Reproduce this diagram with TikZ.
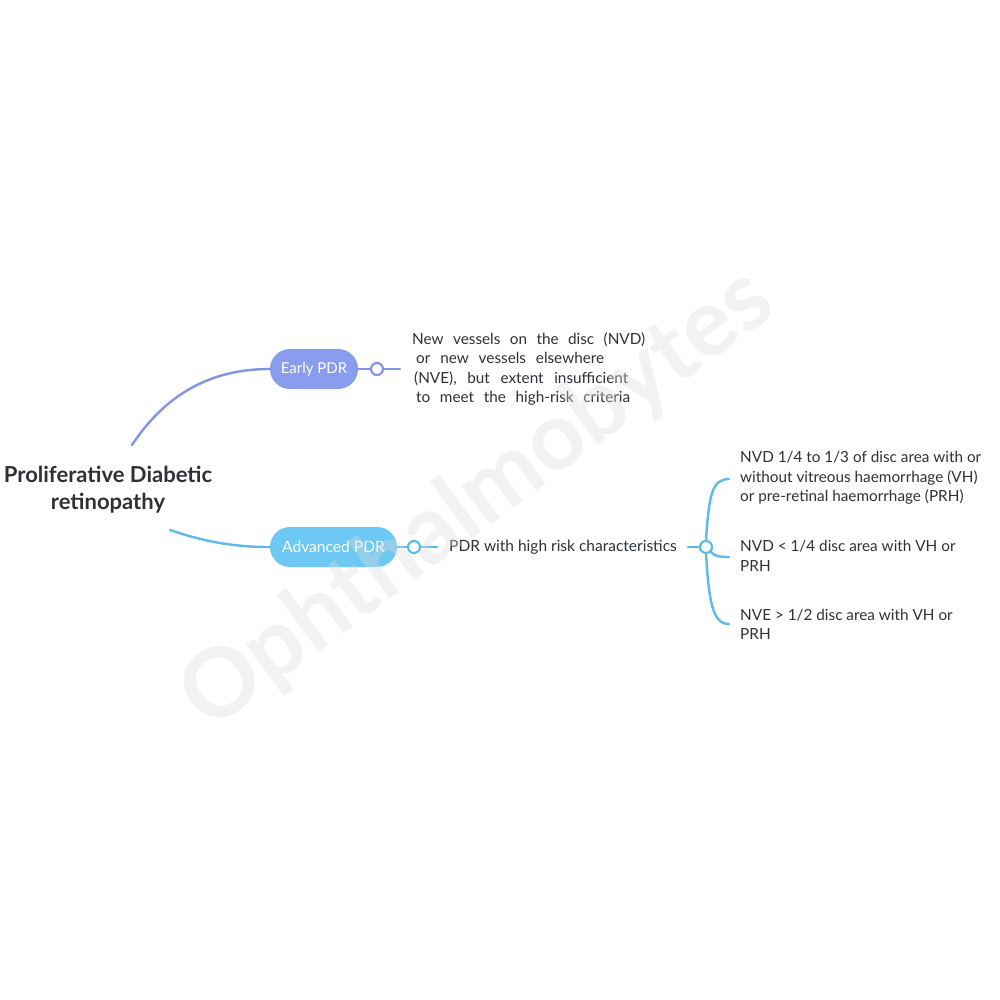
\documentclass[tikz,border=0pt]{standalone}
\usepackage{fontspec}
\setmainfont{Lato}
\definecolor{early}{HTML}{8A9CEE}
\definecolor{earlyline}{HTML}{8393E6}
\definecolor{adv}{HTML}{6EC8F4}
\definecolor{advline}{HTML}{5DBAE9}
\definecolor{txt}{HTML}{2E3236}
\definecolor{wm}{HTML}{DCDCDC}
\tikzset{
  pill/.style={rounded corners=20pt, minimum height=40pt, inner sep=0pt, text=white},
  circ/.style={circle, minimum size=12pt, inner sep=0pt, fill=white, line width=2.2pt},
  conn/.style={line width=2.4pt, line cap=round},
  body/.style={text=txt, font=\fontsize{15.3}{19.3}\selectfont, align=left, inner sep=0pt},
  titletext/.style={text=txt, font=\fontsize{22}{27}\selectfont\bfseries, align=center, inner sep=0pt}
}
\begin{document}
\begin{tikzpicture}[x=1pt,y=-1pt]
\useasboundingbox (0,0) rectangle (1000,1000);
\fill[white] (0,0) rectangle (1000,1000);

\node[titletext] (root) at (108,489.5) {Proliferative Diabetic\\retinopathy};

\node[pill, fill=early, minimum width=88pt, font=\fontsize{15}{17}\selectfont] (early) at (314,369) {Early PDR};
\node[pill, fill=adv, minimum width=127pt, font=\fontsize{15.6}{17}\selectfont] (adv) at (333.5,547) {Advanced PDR};

\coordinate (r1) at (132,445);
\coordinate (r2) at (170,530);
\draw[conn, earlyline] (r1) .. controls (165,395) and (210,369) .. (early.west);
\draw[conn, advline] (r2) .. controls (205,542) and (235,547) .. (adv.west);

% early branch
\node[circ, draw=earlyline] (c1) at (377,369) {};
\coordinate (e1) at (400,369);
\draw[conn, earlyline] (early.east) -- (c1);
\draw[conn, earlyline] (c1) -- (e1);
\node[body, anchor=west] (t1) at (412,369) {%
\makebox[233pt][s]{New vessels on the disc (NVD)}\\
\hspace*{4pt}\makebox[188pt][s]{or new vessels elsewhere}\\
\hspace*{2pt}\makebox[214pt][s]{(NVE), but extent insufficient}\\
\hspace*{4pt}\makebox[214pt][s]{to meet the high-risk criteria}};

% advanced branch
\node[circ, draw=advline] (c2) at (414,547) {};
\coordinate (e2) at (437,547);
\draw[conn, advline] (adv.east) -- (c2);
\draw[conn, advline] (c2) -- (e2);
\node[body, anchor=west, font=\fontsize{15.5}{17}\selectfont] (t2) at (449,547) {PDR with high risk characteristics};

\coordinate (e3) at (688,547);
\node[circ, draw=advline] (c3) at (706,547) {};
\draw[conn, advline] (e3) -- (c3);
\coordinate (b1) at (729,479);
\coordinate (b2) at (729,557);
\coordinate (b3) at (729,624);
\draw[conn, advline] (c3.north) .. controls (709,495) and (712,479) .. (b1);
\draw[conn, advline] (c3.south east) .. controls (714,556) and (720,557) .. (b2);
\draw[conn, advline] (c3.south) .. controls (709,600) and (712,624) .. (b3);

\node[body, anchor=west] (k1) at (740,478) {NVD 1/4 to 1/3 of disc area with or\\without vitreous haemorrhage (VH)\\or pre-retinal haemorrhage (PRH)};
\node[body, anchor=west] (k2) at (740,556) {NVD < 1/4 disc area with VH or\\PRH};
\node[body, anchor=west] (k3) at (740,624.5) {NVE > 1/2 disc area with VH or\\PRH};

% watermark
\node[rotate=36.5, text=wm, opacity=0.35, font=\fontsize{95}{95}\selectfont\bfseries, inner sep=0pt] (wmk) at (478,500) {Ophthalmobytes};
\end{tikzpicture}
\end{document}
